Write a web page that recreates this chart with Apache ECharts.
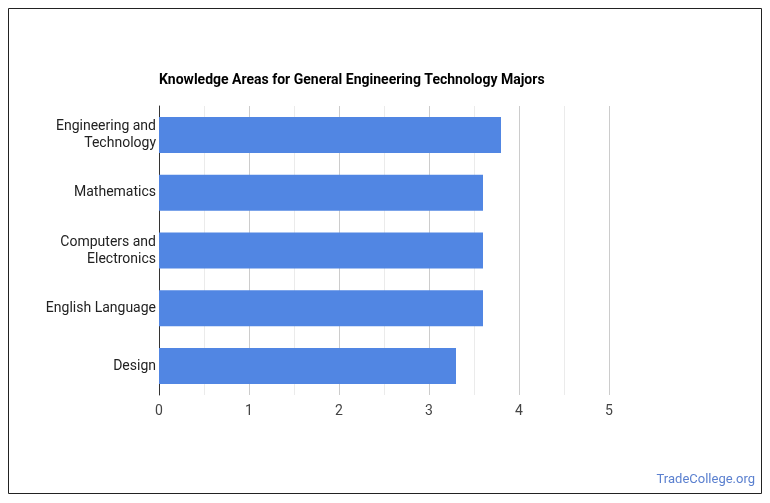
<!DOCTYPE html>
<html><head><meta charset="utf-8">
<script src="https://cdn.jsdelivr.net/npm/echarts@6/dist/echarts.min.js"></script>
<style>html,body{margin:0;padding:0;background:#fff}#c{width:770px;height:503px}</style>
</head><body><div id="c"></div>
<script>
var categories = ["Engineering and\nTechnology", "Mathematics", "Computers and\nElectronics", "English Language", "Design"];
var values = [3.8, 3.6, 3.6, 3.6, 3.3];
var xTicks = [0, 1, 2, 3, 4, 5];

var chart = echarts.init(document.getElementById('c'), null, {renderer: 'canvas'});
chart.setOption({
  animation: false,
  backgroundColor: '#fff',
  title: {
    text: 'Knowledge Areas for General Engineering Technology Majors',
    left: 154, top: 68,
    textStyle: {fontFamily: 'Roboto', fontWeight: 'bold', fontSize: 14, color: '#000'}
  },
  graphic: [
    {type: 'rect', shape: {x: 8.5, y: 8.5, width: 753, height: 485}, style: {fill: 'none', stroke: '#222', lineWidth: 1}, z: 100},
    {type: 'text', right: 15, top: 473, style: {text: 'TradeCollege.org', fill: '#5b80cf', font: '13px Roboto'}}
  ],
  grid: {left: 159, top: 106, width: 450, height: 289, containLabel: false},
  xAxis: {
    type: 'value', min: xTicks[0], max: xTicks[xTicks.length - 1], interval: 1,
    axisLine: {show: false}, axisTick: {show: false},
    axisLabel: {color: '#444', fontFamily: 'Roboto', fontSize: 14, margin: 9},
    splitLine: {show: true, lineStyle: {color: '#cccccc', width: 1}},
    minorTick: {show: false, splitNumber: 2},
    minorSplitLine: {show: true, lineStyle: {color: '#ebebeb', width: 1}}
  },
  yAxis: {
    type: 'category', data: categories, inverse: true,
    axisLine: {show: true, lineStyle: {color: '#333', width: 1}},
    axisTick: {show: false},
    axisLabel: {color: '#222', fontFamily: 'Roboto', fontSize: 14, margin: 3, lineHeight: 17, align: 'right'}
  },
  series: [{
    type: 'bar', data: values, barCategoryGap: '37.7%',
    itemStyle: {color: '#5186e3'}
  }]
});
</script></body></html>
